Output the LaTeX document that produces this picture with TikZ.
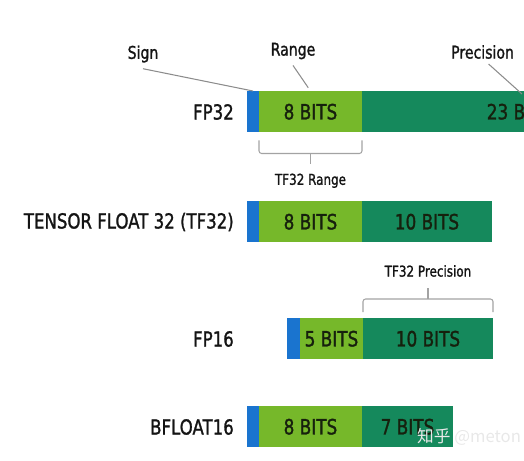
\documentclass[tikz,border=0pt]{standalone}
\usepackage{fontspec}
\setmainfont{DejaVu Sans}[FakeStretch=0.8, FakeBold=1.3]
\newfontfamily\cjk{Noto Sans CJK SC}
\usetikzlibrary{positioning, calc}
\definecolor{csign}{HTML}{1A74CF}
\definecolor{crange}{HTML}{76B82A}
\definecolor{cprec}{HTML}{15895C}
\definecolor{ctext}{HTML}{16200D}
\definecolor{cline}{HTML}{8C8C8C}
\tikzset{
  seg/.style={fill=#1, inner sep=0pt, outer sep=0pt, minimum height=0.83cm, text=ctext, font=\fontsize{12}{14}\selectfont},
  rowlabel/.style={font=\fontsize{11.8}{14}\selectfont, text=black!92, anchor=east},
  toplabel/.style={font=\fontsize{10}{12}\selectfont, text=black!92},
  bracelabel/.style={font=\fontsize{8.5}{10}\selectfont, text=black!92},
  lead/.style={draw=cline, line width=0.6pt},
  bracket/.style={draw=cline!80, line width=0.6pt, rounded corners=1.5pt},
}
\newcommand{\seg}[6]{
  \node[seg=#5, minimum width={(#4-#3)*0.02cm}, anchor=north west] (#1) at (#3,#2) {#6};
}

\begin{document}
\begin{tikzpicture}[x=0.02cm, y=-0.02cm]
  \useasboundingbox (0,0) rectangle (524,460);
  \clip (0,0) rectangle (524,460);
  % the four formats: sign, exponent, mantissa
  \foreach \r/\y/\xs/\xe/\xm/\xend/\et/\mt in {fp32/91/247/259/362/676/8 BITS/23 BITS, tf32/201/247/259/362/492/8 BITS/10 BITS, fp16/318/287/300/363/493/5 BITS/10 BITS, bf16/406/247/259/362/453/8 BITS/7 BITS}
    { \seg{s\r}{\y}{\xs}{\xe}{csign}{}
      \seg{e\r}{\y}{\xe}{\xm}{crange}{\et}
      \seg{m\r}{\y}{\xm}{\xend}{cprec}{\mt} }
  % row names
  \foreach \r/\y/\n in {fp32/112/FP32, tf32/222/TENSOR FLOAT 32 (TF32), fp16/339/FP16, bf16/427/BFLOAT16}
    { \node[rowlabel] (l\r) at (240,\y) {\n}; }
  % what the fields are
  \node[toplabel] (sign) at (143,54) {Sign};
  \node[toplabel] (range) at (293,51) {Range};
  \node[toplabel, anchor=west] (prec) at (445,52) {Precision};
  \coordinate (pend) at (522,94);
  \draw[lead] (sign.south) -- (sfp32.north);
  \draw[lead, shorten >=0.08cm] (range.south) -- (efp32.north);
  \draw[lead] ($(prec.south)+(6,-1)$) -- (pend);
  % TF32 range bracket
  \coordinate (rtip) at ($(efp32.south)+(0,32)$);
  \draw[bracket] ($(efp32.south west)+(0,8)$) -- ($(efp32.south west)+(0,21)$) -- ($(efp32.south east)+(0,21)$) -- ($(efp32.south east)+(0,8)$);
  \draw[bracket] ($(efp32.south)+(0,21)$) -- (rtip);
  \node[bracelabel, below=0.06cm of rtip] (rlab) {TF32 Range};
  % TF32 precision bracket
  \coordinate (ptip) at ($(mfp16.north)+(0,-30)$);
  \draw[bracket] ($(mfp16.north west)+(0,-6)$) -- ($(mfp16.north west)+(0,-19)$) -- ($(mfp16.north east)+(0,-19)$) -- ($(mfp16.north east)+(0,-6)$);
  \draw[bracket] ($(mfp16.north)+(0,-19)$) -- (ptip);
  \node[bracelabel, above=0.1cm of ptip] (plab) {TF32 Precision};
  % watermark
  \node[text=white!82!gray, font=\cjk\fontsize{9.5}{11}\selectfont, anchor=west] (wm) at (411,437) {知乎 @meton};
\end{tikzpicture}
\end{document}
